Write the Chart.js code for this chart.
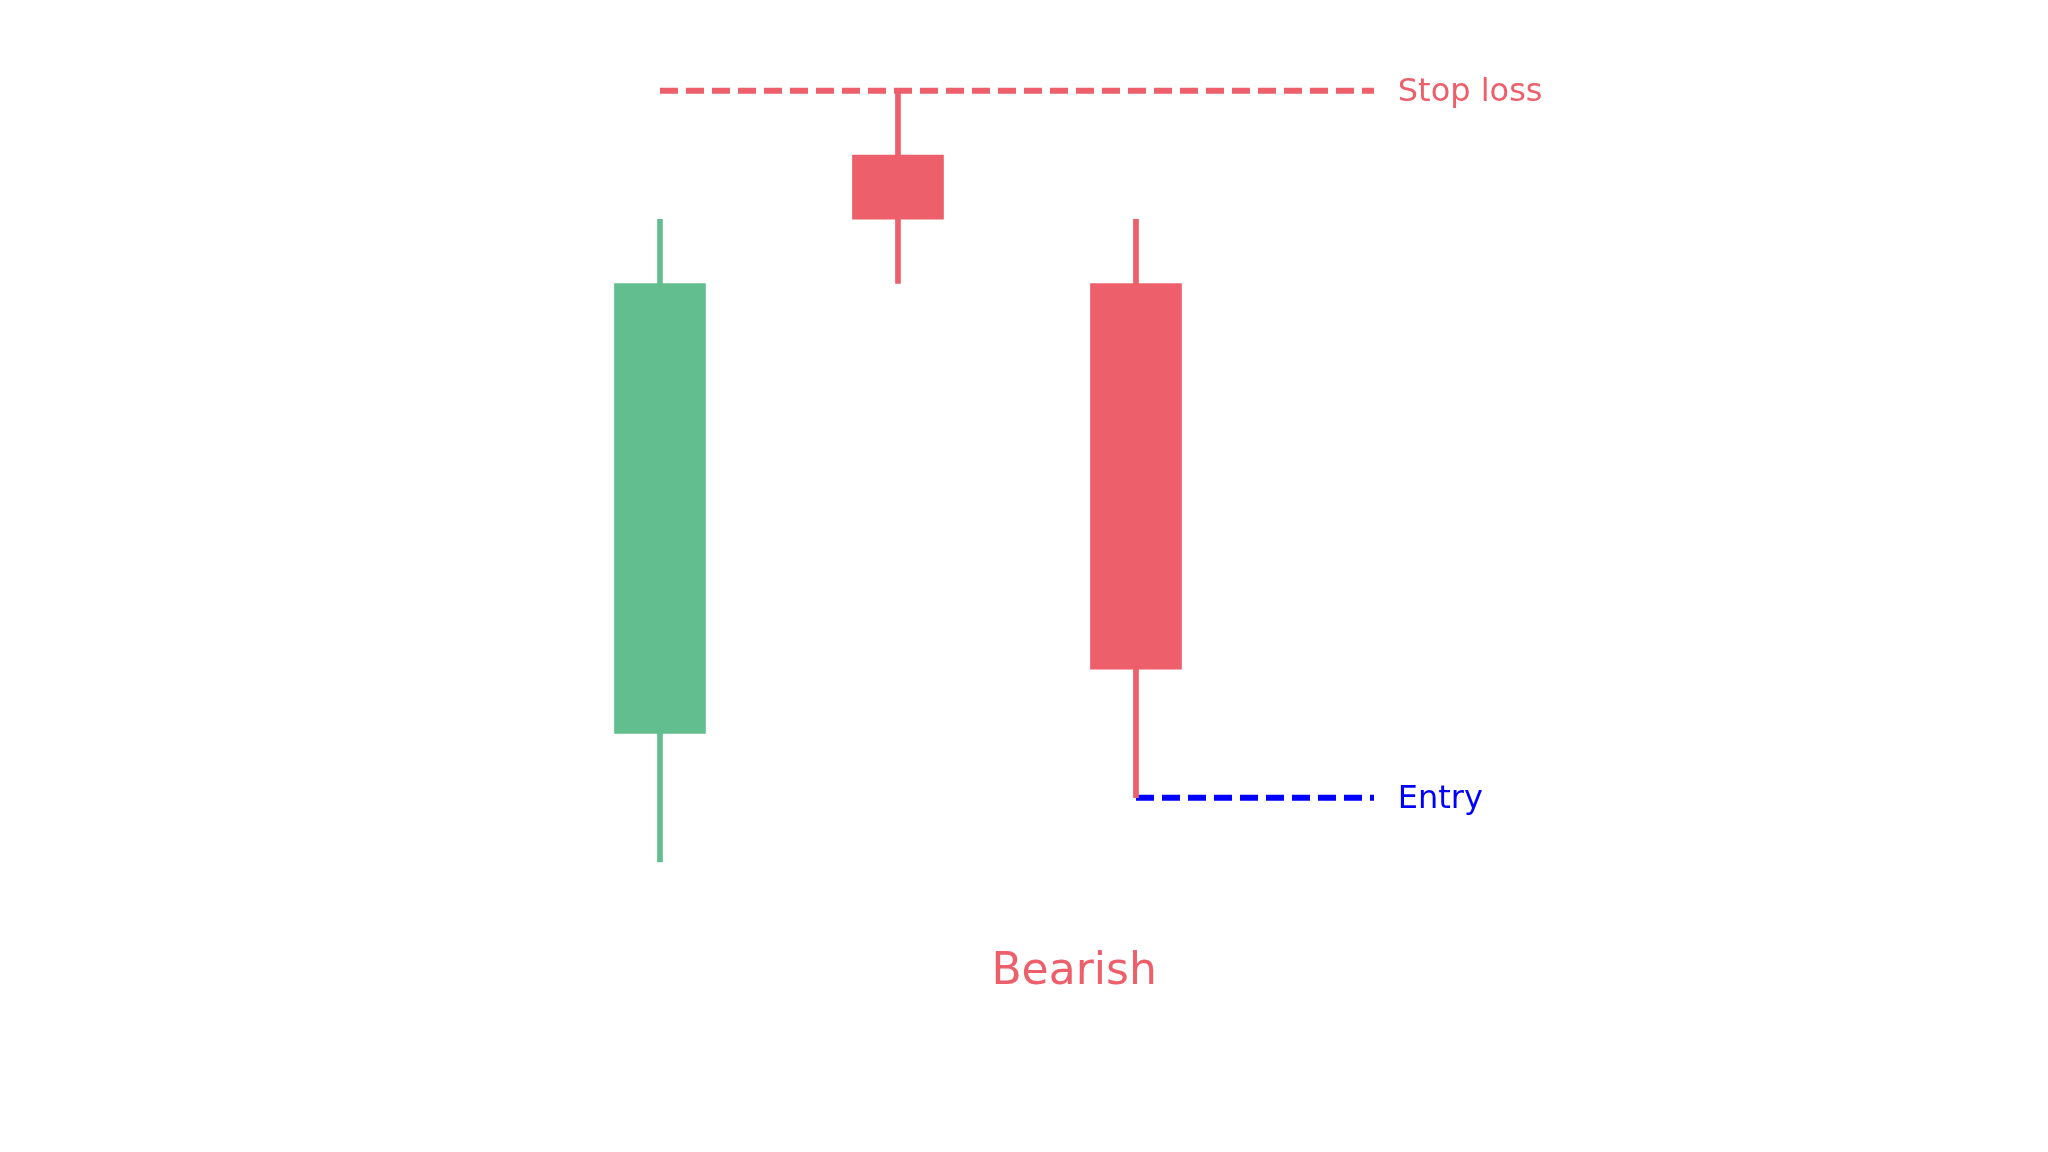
<!DOCTYPE html>
<html>
<head>
<meta charset="utf-8">
<script src="https://cdn.jsdelivr.net/npm/chart.js@4.4.1/dist/chart.umd.min.js"></script>
<style>
  html, body { margin: 0; padding: 0; background: #ffffff; }
  #wrap { width: 2048px; height: 1152px; }
</style>
</head>
<body>
<div id="wrap"><canvas id="c" width="2048" height="1152"></canvas></div>
<script>
// ---- data ----
const candleX = [0, 1, 2];
const opens   = [2, 11, 9];
const closes  = [9, 10, 3];
const highs   = [10, 12, 10];
const lows    = [0, 9, 1];

const stopLossLevel = 12;
const stopLossFrom = 0, stopLossTo = 3;
const entryLevel = 1;
const entryFrom = 2, entryTo = 3;

const levelLabels = ['Stop loss', 'Entry'];
const captionText = 'Bearish';
const captionX = 1.74, captionY = -1.9;
const labelX = 3.1;

// ---- styles ----
const GREEN = '#63BE8F';
const RED = '#EC5F6B';
const BLUE = '#0000FF';
const FONT = '"DejaVu Sans", "Liberation Sans", sans-serif';

const candleColors = candleX.map((_, i) => closes[i] >= opens[i] ? GREEN : RED);

const bodies = candleX.map((x, i) => ({ x: x, y: [Math.min(opens[i], closes[i]), Math.max(opens[i], closes[i])] }));
const wicks  = candleX.map((x, i) => ({ x: x, y: [lows[i], highs[i]] }));

const textPlugin = {
  id: 'levelText',
  afterDatasetsDraw(chart) {
    const { ctx, scales } = chart;
    const xs = scales.x, ys = scales.y;
    ctx.save();
    ctx.textBaseline = 'middle';
    ctx.textAlign = 'left';
    ctx.font = '32px ' + FONT;
    ctx.fillStyle = RED;
    ctx.fillText(levelLabels[0], xs.getPixelForValue(labelX), ys.getPixelForValue(stopLossLevel) + 2);
    ctx.fillStyle = BLUE;
    ctx.fillText(levelLabels[1], xs.getPixelForValue(labelX), ys.getPixelForValue(entryLevel) + 2);
    ctx.textAlign = 'center';
    ctx.textBaseline = 'alphabetic';
    ctx.font = '44px ' + FONT;
    ctx.fillStyle = RED;
    ctx.fillText(captionText, xs.getPixelForValue(captionX), ys.getPixelForValue(captionY));
    ctx.restore();
  }
};

new Chart(document.getElementById('c'), {
  data: {
    datasets: [
      {
        type: 'line',
        data: [{ x: stopLossFrom, y: stopLossLevel }, { x: stopLossTo, y: stopLossLevel }],
        borderColor: RED,
        borderWidth: 6,
        borderDash: [18, 8],
        borderCapStyle: 'butt',
        pointRadius: 0,
        order: 3
      },
      {
        type: 'line',
        data: [{ x: entryFrom, y: entryLevel }, { x: entryTo, y: entryLevel }],
        borderColor: BLUE,
        borderWidth: 6,
        borderDash: [18, 8],
        borderCapStyle: 'butt',
        pointRadius: 0,
        order: 3
      },
      {
        type: 'bar',
        data: wicks,
        backgroundColor: candleColors,
        borderWidth: 0,
        barThickness: 5,
        grouped: false,
        order: 2
      },
      {
        type: 'bar',
        data: bodies,
        backgroundColor: candleColors,
        borderWidth: 0,
        barThickness: 91,
        grouped: false,
        order: 1
      }
    ]
  },
  options: {
    responsive: false,
    animation: false,
    devicePixelRatio: 1,
    layout: { padding: 0 },
    plugins: { legend: { display: false }, tooltip: { enabled: false }, title: { display: false } },
    scales: {
      x: { type: 'linear', display: false, offset: false, min: -2.773, max: 5.832 },
      y: { type: 'linear', display: false, offset: false, min: -4.513, max: 13.411 }
    }
  },
  plugins: [textPlugin]
});
</script>
</body>
</html>
